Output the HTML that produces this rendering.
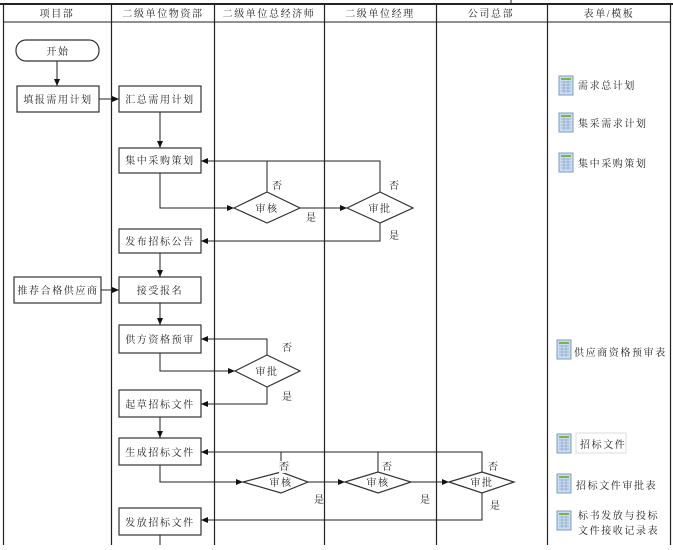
<!DOCTYPE html>
<html><head><meta charset="utf-8"><style>
body{margin:0;background:#fff}
text{font-family:"Liberation Serif","Noto Serif CJK SC","Noto Sans CJK SC",serif;font-size:10px;fill:#222;letter-spacing:1.6px}
</style></head><body>
<svg width="673" height="545" viewBox="0 0 673 545" xmlns="http://www.w3.org/2000/svg">
<defs>
<marker id="a" markerWidth="8" markerHeight="8" refX="7" refY="4" orient="auto" markerUnits="userSpaceOnUse"><path d="M0,1 L7,4 L0,7z" fill="#111"/></marker>
<g id="ic"><rect x="0" y="0" width="14" height="19" fill="#c9dcf0" stroke="#7a9cc4"/><rect x="2" y="2" width="10" height="2" fill="#7cb342"/><path d="M2,6h10M2,9h10M2,12h10M2,15h10M5,5v12M9,5v12" stroke="#8fa9c8" stroke-width="0.8"/></g>
</defs>
<g stroke="#222" fill="none">
<line x1="0" y1="4" x2="673" y2="4" stroke-width="2"/>
<line x1="3" y1="22" x2="671" y2="22"/>
<line x1="511" y1="0" x2="511" y2="4"/>
<path d="M3.5,4V545M111.5,4V545M214.5,4V545M324.5,4V545M436.5,4V545M547.5,4V545M670.5,4V545" stroke-width="1.2"/>
</g>
<g text-anchor="middle">
<text x="57" y="17">项目部</text><text x="163" y="17">二级单位物资部</text><text x="269" y="17">二级单位总经济师</text>
<text x="380" y="17">二级单位经理</text><text x="491" y="17">公司总部</text><text x="609" y="17">表单/模板</text>
</g>
<g stroke="#333" fill="#fff" stroke-width="1.2">
<rect x="16" y="40" width="83" height="21" rx="10"/>
<rect x="17" y="86" width="82" height="26"/>
<rect x="119" y="86" width="82" height="26"/>
<rect x="119" y="148" width="82" height="25"/>
<rect x="119" y="229" width="82" height="24"/>
<rect x="14" y="277" width="87" height="26"/>
<rect x="119" y="277" width="82" height="26"/>
<rect x="119" y="325" width="82" height="28"/>
<rect x="119" y="390" width="82" height="27"/>
<rect x="119" y="438" width="82" height="27"/>
<rect x="119" y="508" width="82" height="27"/>
<polygon points="234,208 267,192 300,208 267,223"/>
<polygon points="347,208 380,192 413,208 380,223"/>
<polygon points="235,371 267,355 300,371 267,387"/>
<polygon points="243,482 281,472 308,482 281,493"/>
<polygon points="345,482 378,472 411,482 378,493"/>
<polygon points="449,482 482,472 514,482 482,493"/>
</g>
<g stroke="#222" fill="none" stroke-width="1">
<path d="M57,61V86" marker-end="url(#a)"/>
<path d="M99,99H119" marker-end="url(#a)"/>
<path d="M160,112V148" marker-end="url(#a)"/>
<path d="M160,173V208H234" marker-end="url(#a)"/>
<path d="M267,192V161M380,192V161H201" marker-end="url(#a)"/>
<path d="M300,208H347" marker-end="url(#a)"/>
<path d="M380,223V241H201" marker-end="url(#a)"/>
<path d="M160,253V277" marker-end="url(#a)"/>
<path d="M101,290H119" marker-end="url(#a)"/>
<path d="M160,303V325" marker-end="url(#a)"/>
<path d="M160,353V371H235" marker-end="url(#a)"/>
<path d="M267,355V339H201" marker-end="url(#a)"/>
<path d="M267,387V404H201" marker-end="url(#a)"/>
<path d="M160,417V438" marker-end="url(#a)"/>
<path d="M281,472V452M378,472V452M482,472V452H201" marker-end="url(#a)"/>
<path d="M160,465V482H243" marker-end="url(#a)"/>
<path d="M308,482H345" marker-end="url(#a)"/>
<path d="M411,482H449" marker-end="url(#a)"/>
<path d="M482,493V520H201" marker-end="url(#a)"/>
<path d="M160,535V545"/>
</g>
<g text-anchor="middle">
<text x="58" y="55">开始</text>
<text x="58" y="103">填报需用计划</text><text x="160" y="103">汇总需用计划</text>
<text x="160" y="164">集中采购策划</text><text x="160" y="245">发布招标公告</text>
<text x="58" y="294">推荐合格供应商</text><text x="160" y="294">接受报名</text>
<text x="160" y="343">供方资格预审</text><text x="160" y="408">起草招标文件</text>
<text x="160" y="456">生成招标文件</text><text x="160" y="526">发放招标文件</text>
<text x="267" y="212">审核</text><text x="380" y="212">审批</text><text x="267" y="375">审批</text>
<text x="281" y="486">审核</text><text x="378" y="486">审核</text><text x="482" y="486">审批</text>
</g>
<g>
<text x="272" y="189">否</text><text x="306" y="221">是</text><text x="389" y="189">否</text><text x="389" y="239">是</text>
<text x="282" y="351">否</text><text x="282" y="400">是</text>
<rect x="279" y="461" width="11" height="12" fill="#f4f4f4"/><text x="279" y="470">否</text>
<text x="382" y="470">否</text><text x="488" y="470">否</text>
<text x="314" y="503">是</text><text x="420" y="503">是</text><text x="490" y="509">是</text>
</g>
<use href="#ic" x="559" y="76"/><text x="578" y="89">需求总计划</text>
<use href="#ic" x="559" y="113"/><text x="578" y="127">集采需求计划</text>
<use href="#ic" x="559" y="153"/><text x="578" y="167">集中采购策划</text>
<use href="#ic" x="557" y="340"/><text x="574" y="356">供应商资格预审表</text>
<use href="#ic" x="557" y="434"/><rect x="576" y="433" width="50" height="20" fill="none" stroke="#ddd"/><text x="580" y="448">招标文件</text>
<use href="#ic" x="557" y="474"/><text x="576" y="489">招标文件审批表</text>
<use href="#ic" x="557" y="511"/><text x="578" y="519">标书发放与投标</text><text x="578" y="534">文件接收记录表</text>
</svg>
</body></html>
